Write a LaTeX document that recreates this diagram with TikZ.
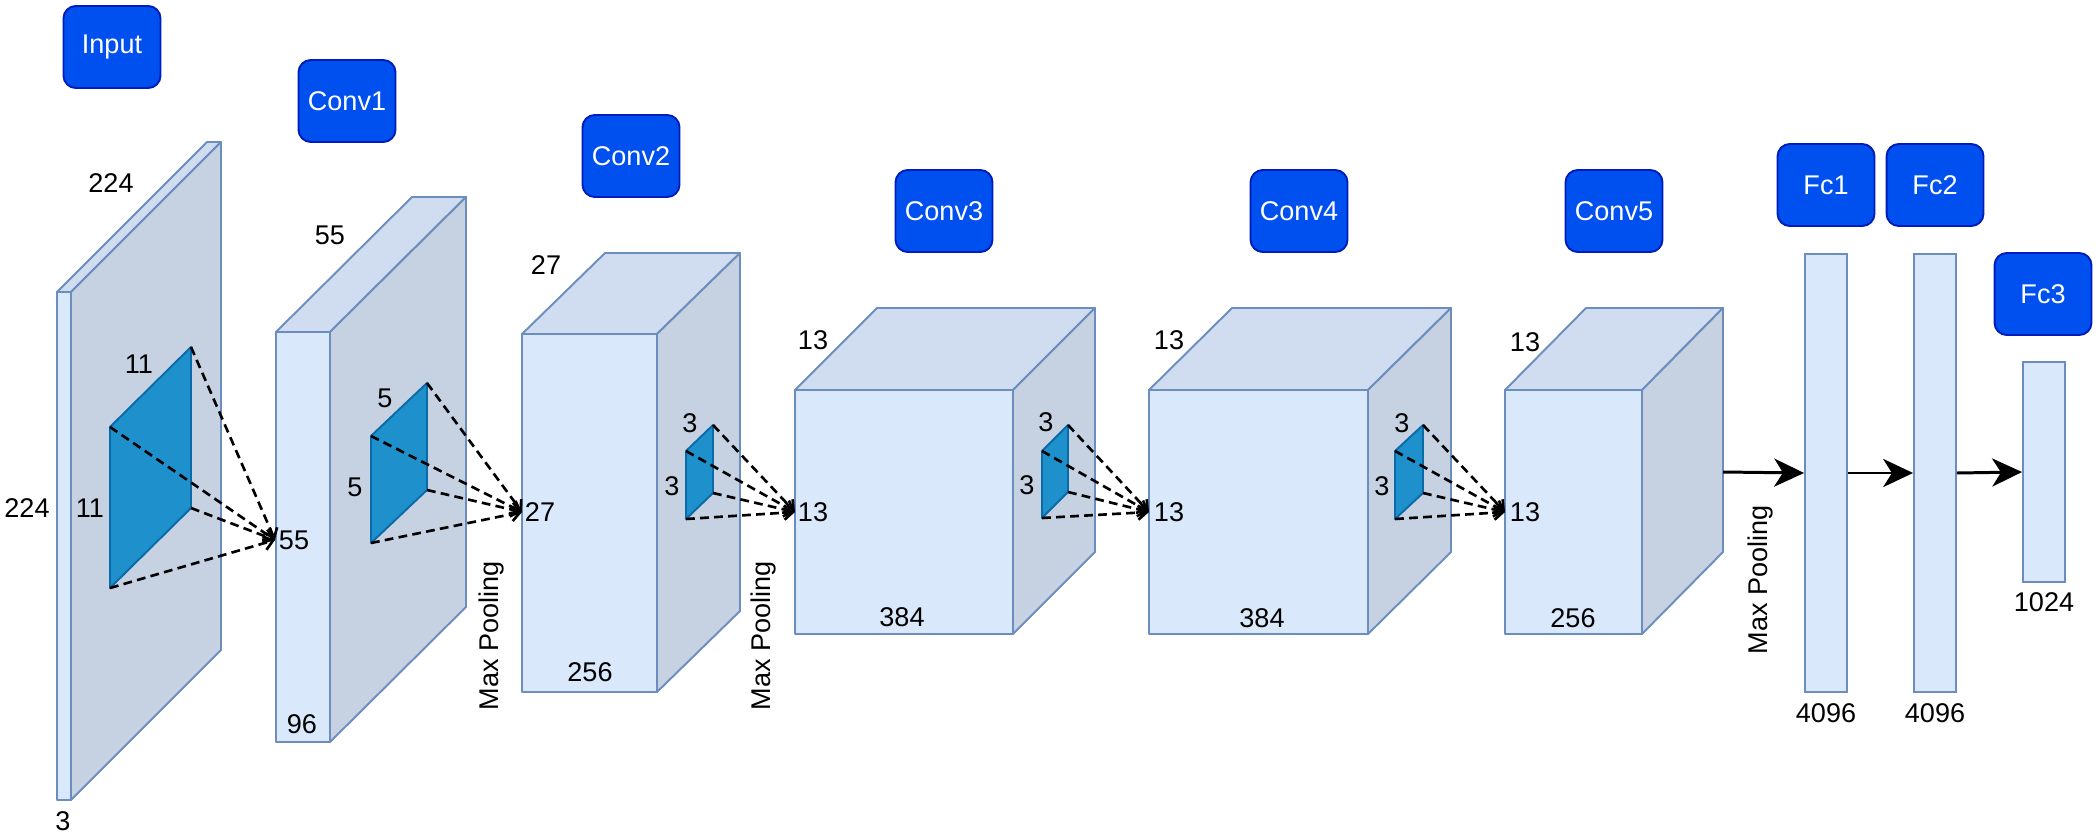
\documentclass[tikz,border=0pt]{standalone}
\usepackage{fontspec}
\setmainfont{Liberation Sans}
\usetikzlibrary{arrows.meta}
\definecolor{facefront}{HTML}{DAE8FC}
\definecolor{facetop}{HTML}{D0DCEF}
\definecolor{faceside}{HTML}{C6D1E2}
\definecolor{faceline}{HTML}{6C8EBF}
\definecolor{kernelfill}{HTML}{1E90CC}
\definecolor{kernelline}{HTML}{0B6AA8}
\definecolor{tagfill}{HTML}{0050EF}
\definecolor{tagline}{HTML}{001DBC}
\newcommand{\cnnlayer}[6]{%
    \filldraw[layerfront] (#1,#2) rectangle (#3,#4);
    \filldraw[layertop] (#1,#2) -- ++(#5,#6) -- ++({#3-#1},0) -- (#3,#2) -- cycle;
    \filldraw[layerside] (#3,#2) -- ++(#5,#6) -- ++(0,{#4-#2}) -- (#3,#4) -- cycle;
}
\newcommand{\cnnkernel}[6]{%
    \path (#2,#3) coordinate (#1a) ++(#4,#5) coordinate (#1b)
        ++(0,#6) coordinate (#1c) (#2,{#3+#6}) coordinate (#1d);
    \filldraw[kernelface] (#1a) -- (#1b) -- (#1c) -- (#1d) -- cycle;
}
\begin{document}
\begin{tikzpicture}[x=0.02cm,y=-0.02cm,
    font=\fontsize{15.4pt}{18pt}\selectfont,
    layerfront/.style={fill=facefront,draw=faceline,line width=1.1pt,line join=round},
    layertop/.style={fill=facetop,draw=faceline,line width=1.1pt,line join=round},
    layerside/.style={fill=faceside,draw=faceline,line width=1.1pt,line join=round},
    kernelface/.style={fill=kernelfill,draw=kernelline,line width=1.1pt,line join=round},
    tag/.style={fill=tagfill,draw=tagline,line width=1.1pt,rounded corners=7pt,
        minimum width=1.94cm,minimum height=1.64cm,text=white},
    fcbar/.style={fill=facefront,draw=faceline,line width=1.1pt,minimum width=0.84cm,inner sep=0pt},
    rf/.style={line width=1.5pt,dash pattern=on 5pt off 3pt,-{Straight Barb[length=5pt,width=8pt]}},
    flow/.style={line width=1.7pt,-{Stealth[length=17pt,width=16pt,inset=5pt]}},
    numlabel/.style={inner sep=0pt}]
    \useasboundingbox (0,0) rectangle (2099,838);
    \cnnlayer{57}{292}{71}{800}{150}{-150}
    \cnnlayer{276}{332}{330}{742}{136}{-135}
    \cnnlayer{522}{334}{657}{692}{83}{-81}
    \cnnlayer{795}{390}{1013}{634}{82}{-82}
    \cnnlayer{1149}{390}{1368}{634}{83}{-82}
    \cnnlayer{1505}{390}{1642}{634}{81}{-82}
    \cnnkernel{kin}{110}{427}{81}{-80}{161}
    \cnnkernel{kca}{371}{436}{56}{-53}{107}
    \cnnkernel{kcb}{686}{451}{27}{-26}{68}
    \cnnkernel{kcc}{1042}{451}{26}{-26}{67}
    \cnnkernel{kcd}{1395}{451}{28}{-26}{68}
    \coordinate (pa) at (275,540);
    \coordinate (pb) at (522,512);
    \coordinate (pc) at (795,512);
    \coordinate (pd) at (1149,512);
    \coordinate (pe) at (1505,512);
    \coordinate (c5out) at (1723,472);
    \node[tag] (tin) at (112,47) {Input};
    \node[tag] (tca) at (347,101) {Conv1};
    \node[tag] (tcb) at (631,156) {Conv2};
    \node[tag] (tcc) at (944,211) {Conv3};
    \node[tag] (tcd) at (1299,211) {Conv4};
    \node[tag] (tce) at (1614,211) {Conv5};
    \node[tag] (tfa) at (1826,185) {Fc1};
    \node[tag] (tfb) at (1935,185) {Fc2};
    \node[tag] (tfc) at (2043,294) {Fc3};
    \node[fcbar,minimum height=8.76cm] (fca) at (1826,473) {};
    \node[fcbar,minimum height=8.76cm] (fcb) at (1935,473) {};
    \node[fcbar,minimum height=4.4cm] (fcc) at (2044,472) {};
    \node[numlabel] (inw) at (111,183) {224};
    \node[numlabel] (inh) at (27,508) {224};
    \node[numlabel] (ind) at (63,821) {3};
    \node[numlabel] (kinw) at (139,364) {11};
    \node[numlabel] (kinh) at (90,508) {11};
    \node[numlabel] (paL) at (294,540) {55};
    \node[numlabel] (caw) at (330,235) {55};
    \node[numlabel] (cad) at (302,724) {96};
    \node[numlabel] (kcaw) at (385,398) {5};
    \node[numlabel] (kcah) at (355,487) {5};
    \node[numlabel] (pbL) at (540,512) {27};
    \node[numlabel] (cbw) at (546,265) {27};
    \node[numlabel] (cbd) at (590,672) {256};
    \node[numlabel] (kcbw) at (690,423) {3};
    \node[numlabel] (kcbh) at (672,486) {3};
    \node[numlabel] (pcL) at (813,512) {13};
    \node[numlabel] (ccw) at (813,340) {13};
    \node[numlabel] (ccd) at (902,617) {384};
    \node[numlabel] (kccw) at (1046,422) {3};
    \node[numlabel] (kcch) at (1027,485) {3};
    \node[numlabel] (pdL) at (1169,512) {13};
    \node[numlabel] (cdw) at (1169,340) {13};
    \node[numlabel] (cdd) at (1262,618) {384};
    \node[numlabel] (kcdw) at (1402,423) {3};
    \node[numlabel] (kcdh) at (1382,486) {3};
    \node[numlabel] (peL) at (1525,512) {13};
    \node[numlabel] (cew) at (1525,342) {13};
    \node[numlabel] (ced) at (1573,618) {256};
    \node[numlabel] (fcaL) at (1826,713) {4096};
    \node[numlabel] (fcbL) at (1935,713) {4096};
    \node[numlabel] (fccL) at (2044,602) {1024};
    \node[numlabel,rotate=90] (mpa) at (491,636) {Max Pooling};
    \node[numlabel,rotate=90] (mpb) at (763,636) {Max Pooling};
    \node[numlabel,rotate=90] (mpc) at (1760,580) {Max Pooling};
    \foreach \k/\p in {kin/pa,kca/pb,kcb/pc,kcc/pd,kcd/pe}
        \foreach \c in {a,b,c,d}
            \draw[rf] (\k\c) -- (\p);
    \draw[flow] (c5out) -- (fca.west);
    \draw[flow] (fca.east) -- (fcb.west);
    \draw[flow] (fcb.east) -- (fcc.west);
\end{tikzpicture}
\end{document}
